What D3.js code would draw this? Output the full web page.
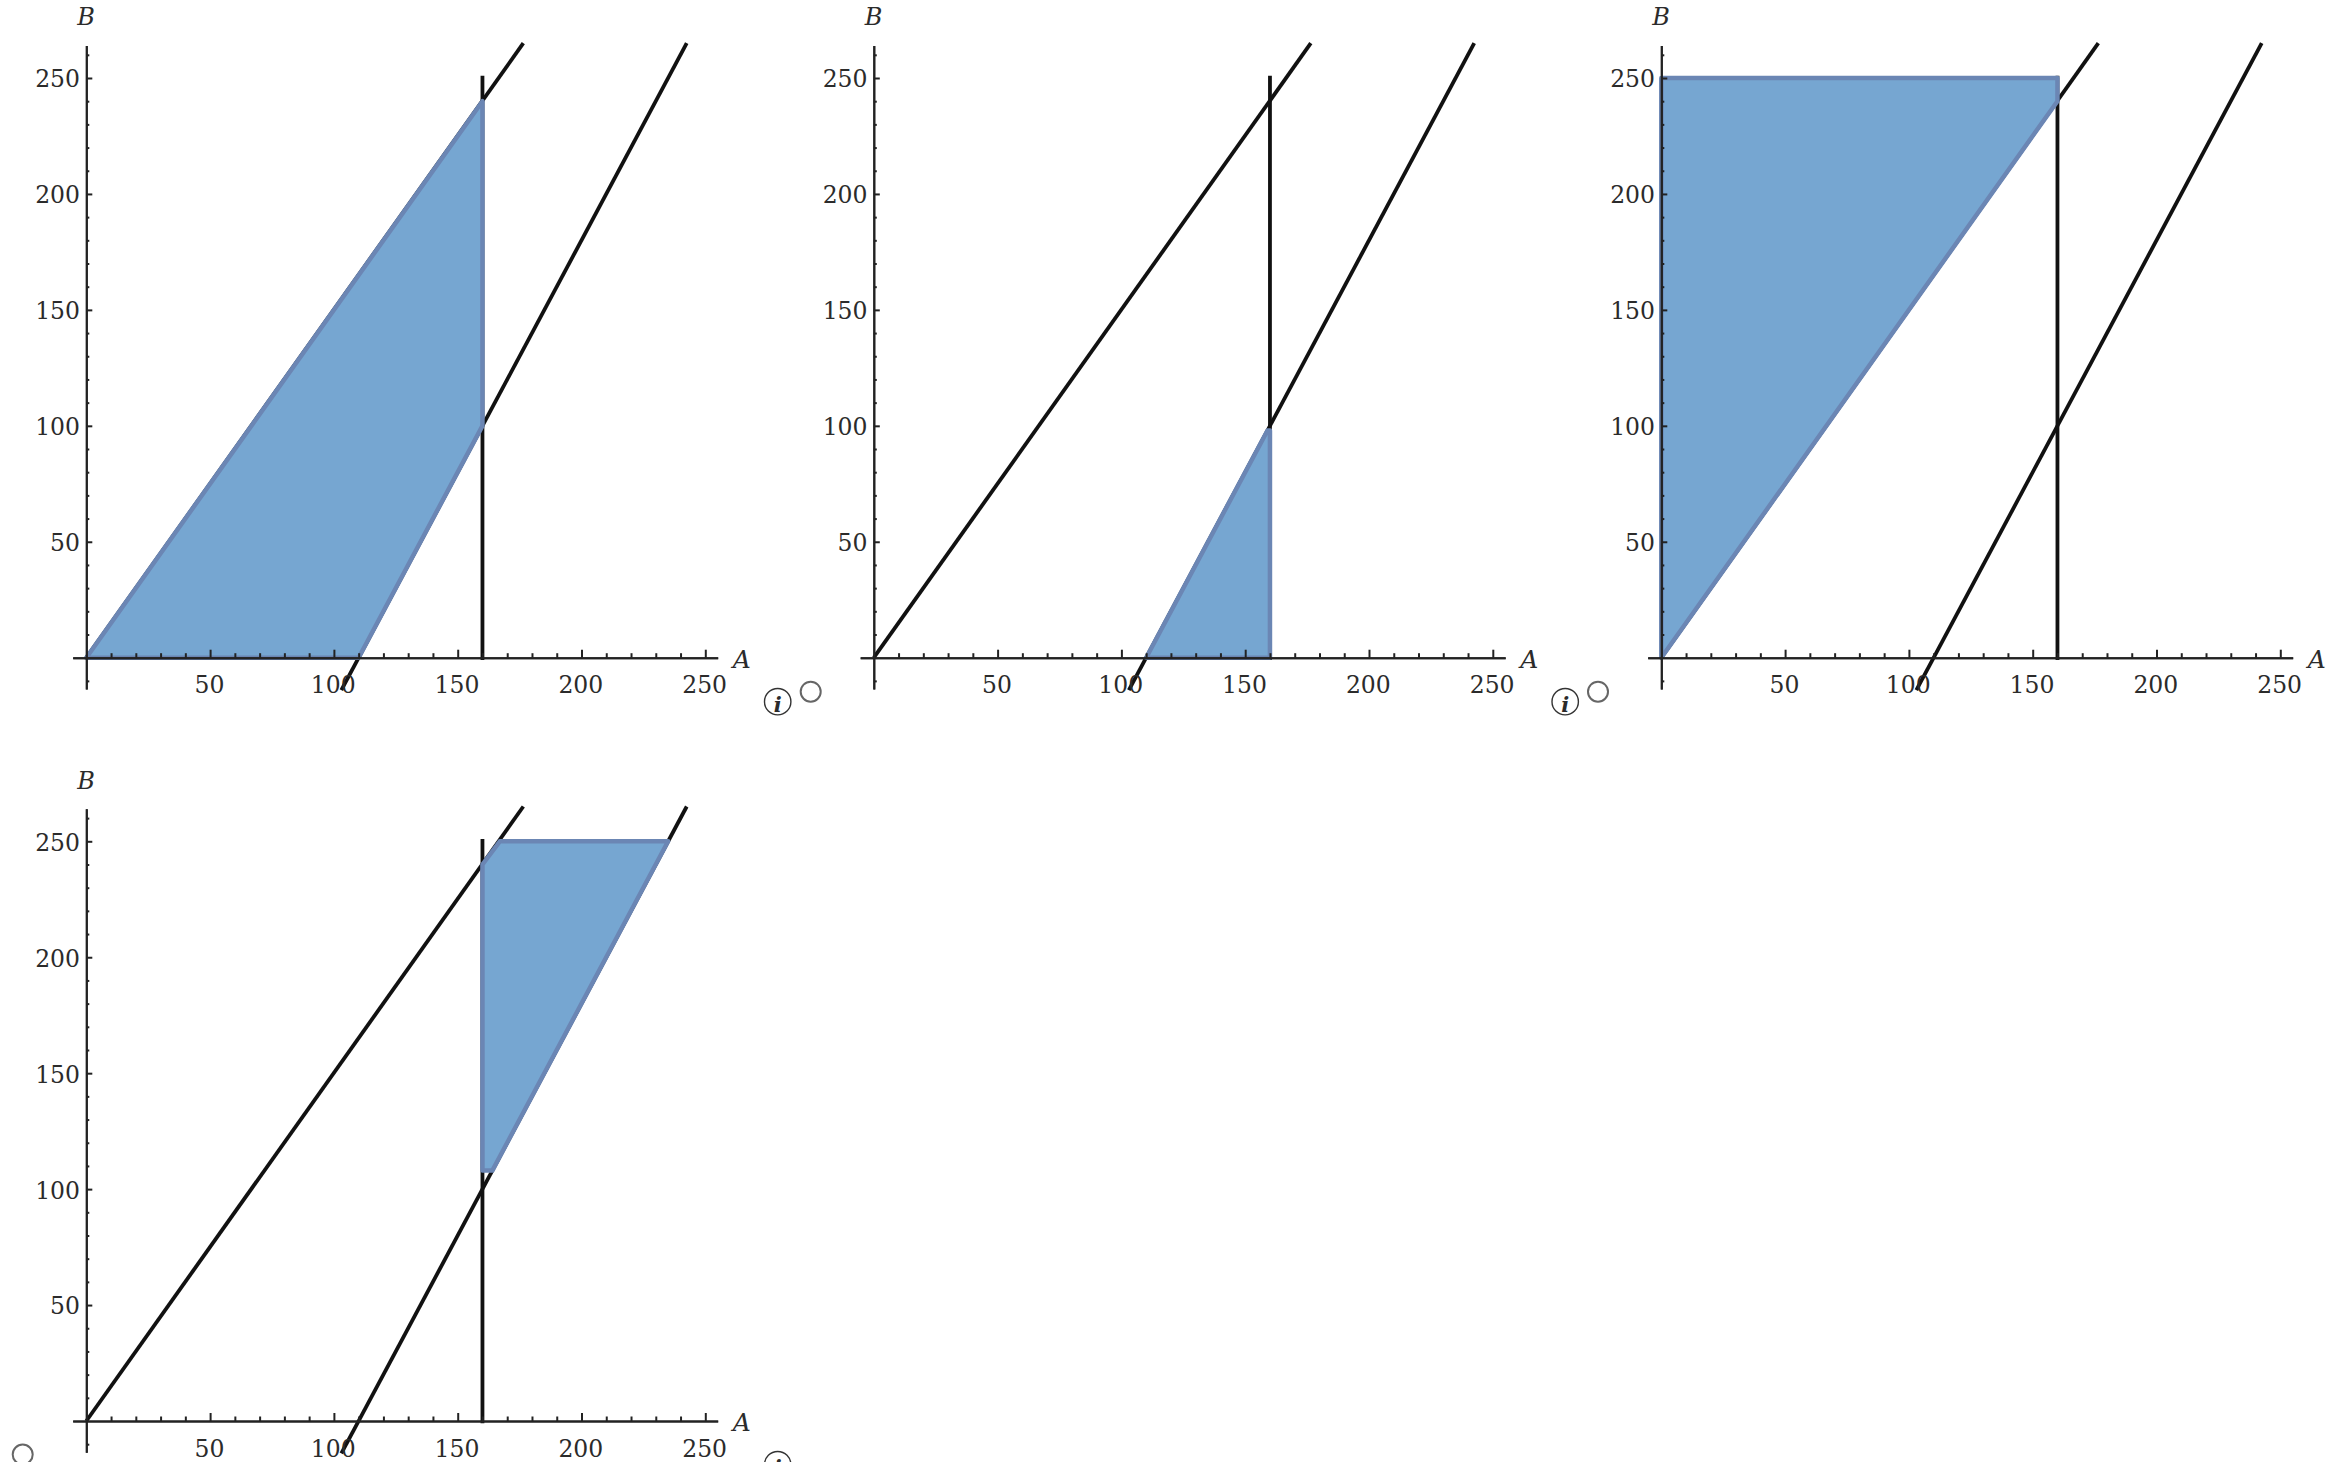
<!DOCTYPE html>
<html>
<head>
<meta charset="utf-8">
<script src="https://cdn.jsdelivr.net/npm/d3@7"></script>
<style>
  html, body { margin: 0; padding: 0; background: #fff; overflow: hidden; }
  svg { display: block; }
  text { font-family: "DejaVu Serif", serif; fill: #2b2b2b; }
</style>
</head>
<body>
<svg id="chart" width="2339" height="1462"></svg>
<script>
const majorTicks = [50, 100, 150, 200, 250]
const minorTicks = [10, 20, 30, 40, 60, 70, 80, 90, 110, 120, 130, 140, 160, 170, 180, 190, 210, 220, 230, 240]
const yExtraMinor = [-10, 260]
const lineA = [[0, 0], [176.5, 265]]
const lineB = [[103, -14], [242.5, 265]]
const lineC = [[160, -1], [160, 251]]
const region1 = [[0, 0], [160, 240], [160, 100], [110, 0]]
const region2 = [[110, 0], [159, 98], [160, 98], [160, 0]]
const region3 = [[0, 0], [0, 250], [160, 250], [160, 240]]
const region4 = [[160, 108], [160, 240], [167, 250], [235, 250], [164, 108]]
const regions = [region1, region2, region3, region4]
const panelCols = [0, 1, 2, 0]
const panelRows = [0, 0, 0, 1]
const infoMarks = [[777.7, 701.7], [1565.2, 701.7], [777.7, 1464.7]]
const emptyMarks = [[810.7, 691.7], [1598, 691.7], [22.7, 1454.5]]

const colW = 787.5
const rowH = 763.3
const svg = d3.select('#chart')

const x = d3.scaleLinear().domain([0, 250]).range([86.3, 705.3])
const y = d3.scaleLinear().domain([0, 250]).range([657.7, 78])
const path = d3.line().x(d => x(d[0])).y(d => y(d[1]))

regions.forEach((region, i) => {
    const g = svg.append('g')
        .attr('transform', `translate(${panelCols[i] * colW}, ${panelRows[i] * rowH})`)

    ;[lineA, lineB, lineC].forEach(l => {
        g.append('path')
            .attr('d', path(l))
            .attr('fill', 'none')
            .attr('stroke', '#111')
            .attr('stroke-width', 3.8)
    })

    g.append('path')
        .attr('d', path(region) + 'Z')
        .attr('fill', '#76a6d1')
        .attr('stroke', '#6b86b4')
        .attr('stroke-width', 4.5)
        .attr('stroke-linejoin', 'round')

    // axes, extended scales so the spines run past the data range
    const xAxisScale = d3.scaleLinear().domain([-5.5, 255]).range([x(-5.5), x(255)])
    const yAxisScale = d3.scaleLinear().domain([-13.5, 264]).range([y(-13.5), y(264)])

    const xAxis = g.append('g')
        .attr('transform', `translate(0, ${y(0)})`)
        .call(d3.axisBottom(xAxisScale).tickValues(majorTicks).tickSize(-8).tickPadding(19).tickSizeOuter(0))
    const xMinor = g.append('g')
        .attr('transform', `translate(0, ${y(0)})`)
        .call(d3.axisBottom(xAxisScale).tickValues(minorTicks).tickSize(-4.5).tickFormat('').tickSizeOuter(0))
    const yAxis = g.append('g')
        .attr('transform', `translate(${x(0)}, 0)`)
        .call(d3.axisLeft(yAxisScale).tickValues(majorTicks).tickSize(-6).tickPadding(6.3).tickSizeOuter(0))
    const yMinor = g.append('g')
        .attr('transform', `translate(${x(0)}, 0)`)
        .call(d3.axisLeft(yAxisScale).tickValues(minorTicks.concat(yExtraMinor)).tickSize(-3).tickFormat('').tickSizeOuter(0))

    ;[xAxis, xMinor, yAxis, yMinor].forEach(a => {
        a.selectAll('path, line').attr('stroke', '#222').attr('stroke-width', 2)
        a.selectAll('text').attr('font-size', 23.5).attr('font-family', '"DejaVu Serif", serif').attr('fill', '#2b2b2b')
    })
    xAxis.selectAll('text').attr('dx', -1.2)
    yAxis.selectAll('text').attr('dy', '0.38em')

    g.append('text').attr('x', 741.7).attr('y', 668).attr('text-anchor', 'middle')
        .attr('font-size', 25).attr('font-style', 'italic').text('A')
    g.append('text').attr('x', 86).attr('y', 25.3).attr('text-anchor', 'middle')
        .attr('font-size', 24).attr('font-style', 'italic').text('B')
})

// info markers beside the panels
infoMarks.forEach(d => {
    svg.append('circle').attr('cx', d[0]).attr('cy', d[1]).attr('r', 13.2)
        .attr('fill', 'none').attr('stroke', '#333').attr('stroke-width', 1.4)
    svg.append('text').attr('x', d[0]).attr('y', d[1] + 10).attr('text-anchor', 'middle')
        .attr('font-size', 21).attr('font-style', 'italic').attr('font-weight', 'bold').text('i')
})
emptyMarks.forEach(d => {
    svg.append('circle').attr('cx', d[0]).attr('cy', d[1]).attr('r', 10)
        .attr('fill', 'none').attr('stroke', '#666').attr('stroke-width', 2)
})
</script>
</body>
</html>
